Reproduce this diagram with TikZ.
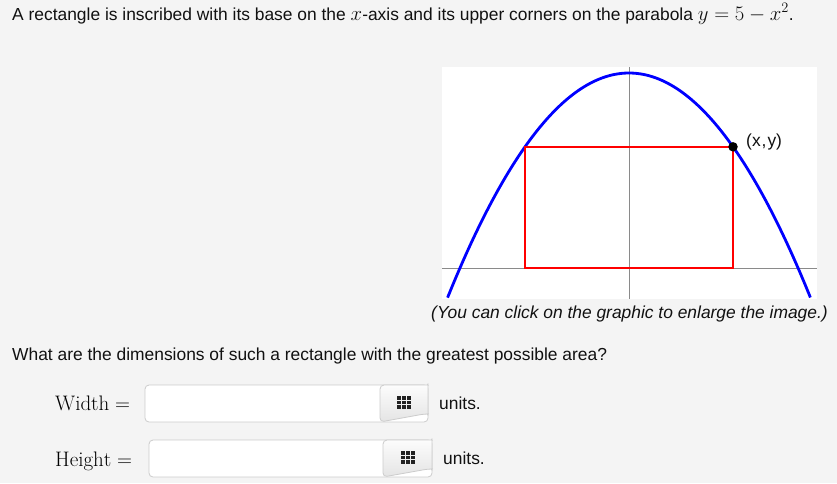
\documentclass[tikz,border=0pt]{standalone}
\usepackage{fontspec}
\setsansfont{Liberation Sans}
\definecolor{bg}{HTML}{F4F4F4}
\definecolor{axisgray}{HTML}{8A8A8A}
\definecolor{boxborder}{HTML}{CCCCCC}
\definecolor{btnlow}{HTML}{E4E4E4}
\definecolor{icon}{HTML}{222222}
\definecolor{txt}{HTML}{111111}
\newcommand{\bigmath}[1]{{\fontsize{21}{24}\selectfont$#1$}}
\begin{document}
\begin{tikzpicture}[x=1pt,y=-1pt,
  body/.style={anchor=base west,inner sep=0pt,font=\fontsize{17.4}{21}\selectfont\sffamily,text=txt},
  lab/.style={anchor=base west,inner sep=0pt,font=\fontsize{21}{24}\selectfont,text=black},
  inbox/.style={draw=boxborder,fill=white,rounded corners=4pt,line width=0.8pt},
  btn/.style={draw=boxborder,rounded corners=4pt,line width=0.8pt,top color=white,bottom color=btnlow},
  axisline/.style={draw=axisgray,line width=0.9pt},
  curve/.style={draw=blue,line width=2.8pt},
  rectline/.style={draw=red,line width=2pt}]
\useasboundingbox[fill=bg] (0,0) rectangle (837,483);
% text
\node[body] (title) at (12,20) {A rectangle is inscribed with its base on the \bigmath{x}-axis and its upper corners on the parabola \bigmath{y=5-x^2}.};
% graph panel
\fill[white] (442,67) rectangle (817,299);
\coordinate (xl) at (442,268); \coordinate (xr) at (817,268);
\coordinate (yt) at (629,67); \coordinate (yb) at (629,299);
\draw[axisline] (xl) -- (xr);
\draw[axisline] (yt) -- (yb);
\begin{scope}
\clip (442,67) rectangle (817,299);
\draw[curve] plot[domain=-2.40:2.40,samples=120,smooth] ({629+75.6*\x},{268-39*(5-\x*\x)});
\end{scope}
\coordinate (ra) at (525,146.8); \coordinate (rb) at (733,146.8);
\coordinate (rc) at (733,268); \coordinate (rd) at (525,268);
\draw[rectline] (ra) -- (rb) -- (rc) -- (rd) -- cycle;
\node[circle,fill=black,inner sep=0pt,minimum size=9.5pt] (pt) at (rb) {};
\node[body,font=\fontsize{17.4}{21}\selectfont\sffamily] (ptlab) at (746,146) {(x{\hspace{1pt}},{\hspace{1pt}}y)};
\node[body,font=\fontsize{17.4}{21}\selectfont\sffamily\itshape] (caption) at (431,318) {(You can click on the graphic to enlarge the image.)};
\node[body] (question) at (12,360) {What are the dimensions of such a rectangle with the greatest possible area?};
% width row
\node[lab] (wlab) at (55,410) {$\mathrm{Width}=$};
\path[inbox] (145,385) rectangle (428,422);
\path[btn] (380,385) -- (424,385) arc[start angle=90,end angle=0,radius=4] -- (428,418) arc[start angle=0,end angle=-90,radius=4] -- (380,422) -- cycle;
\node[inner sep=0pt] (wicon) at (404,402.5) {\tikz[x=1pt,y=1pt]{\foreach \i in {0,1,2}{\foreach \j in {0,1,2}{\fill[icon] (\i*5.2,\j*4.4) rectangle ++(4.2,3.4);}}}};
\node[body] (wunits) at (439,409) {units.};
% height row
\node[lab] (hlab) at (55,466) {$\mathrm{Height}=$};
\path[inbox] (149,440) rectangle (432,477);
\path[btn] (383,440) -- (428,440) arc[start angle=90,end angle=0,radius=4] -- (432,473) arc[start angle=0,end angle=-90,radius=4] -- (383,477) -- cycle;
\node[inner sep=0pt] (hicon) at (408,457.5) {\tikz[x=1pt,y=1pt]{\foreach \i in {0,1,2}{\foreach \j in {0,1,2}{\fill[icon] (\i*5.2,\j*4.4) rectangle ++(4.2,3.4);}}}};
\node[body] (hunits) at (443,464) {units.};
\end{tikzpicture}
\end{document}
